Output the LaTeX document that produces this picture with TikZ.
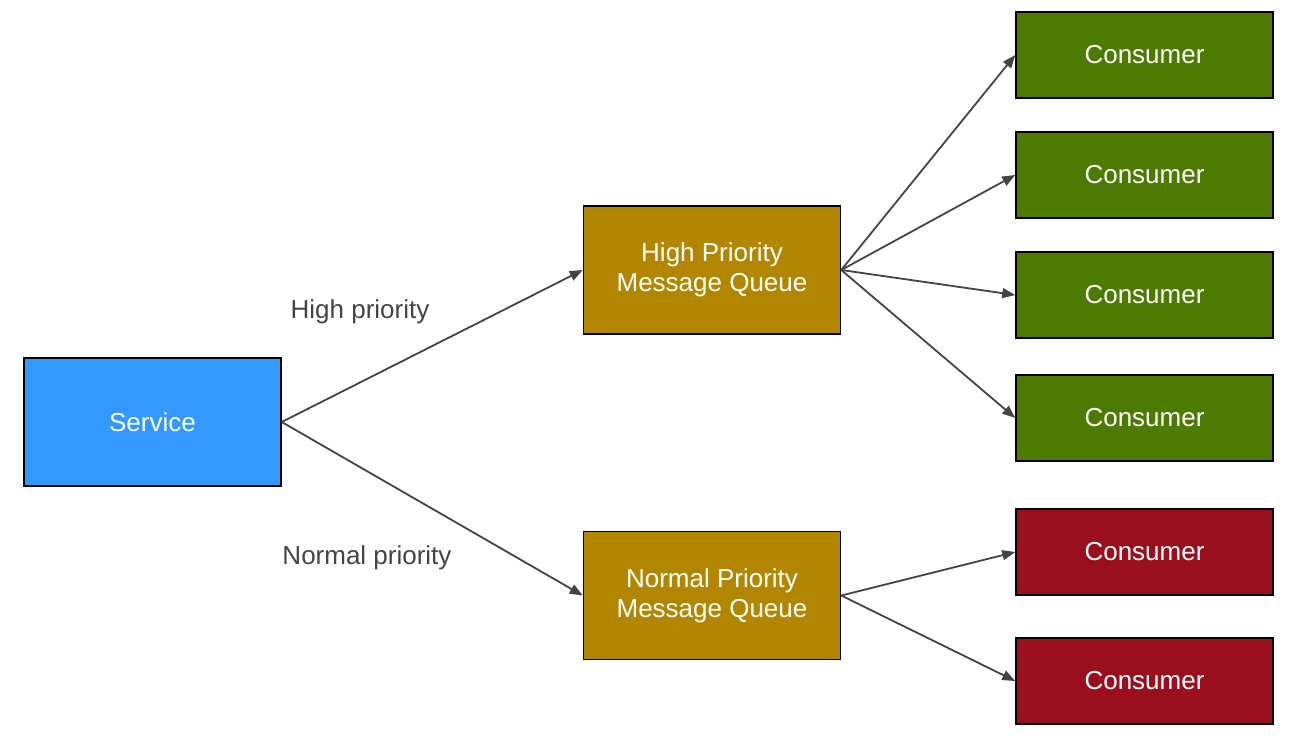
\documentclass[tikz,border=0pt]{standalone}
\usepackage{fontspec}
\setmainfont{Liberation Sans}
\usetikzlibrary{arrows.meta}
\definecolor{svc}{HTML}{3399FF}
\definecolor{que}{HTML}{B38600}
\definecolor{grn}{HTML}{4D7A00}
\definecolor{rd}{HTML}{990F1E}
\definecolor{ln}{HTML}{444444}
\begin{document}
\begin{tikzpicture}[x=1pt,y=-1pt,
  box/.style={draw=black,line width=1.5pt,minimum width=257pt,minimum height=128pt,inner sep=0pt,text=white,font=\fontsize{26}{30}\selectfont,align=center},
  cons/.style={box,minimum height=86pt},
  arr/.style={draw=ln,line width=1.8pt,-{Triangle[length=13pt,width=10pt]}},
  lab/.style={text=ln,font=\fontsize{26}{30}\selectfont}]
\useasboundingbox (0,0) rectangle (1289,738);
\node[box,fill=svc] (s) at (152.5,422) {Service};
\node[box,fill=que] (h) at (712,270) {High Priority\\Message Queue};
\node[box,fill=que] (n) at (712,595.5) {Normal Priority\\Message Queue};
\node[cons,fill=grn] (c1) at (1144.5,55) {Consumer};
\node[cons,fill=grn] (c2) at (1144.5,175) {Consumer};
\node[cons,fill=grn] (c3) at (1144.5,295) {Consumer};
\node[cons,fill=grn] (c4) at (1144.5,418) {Consumer};
\node[cons,fill=rd] (c5) at (1144.5,552) {Consumer};
\node[cons,fill=rd] (c6) at (1144.5,681) {Consumer};
\node[lab] (l1) at (360,312) {High priority};
\node[lab] (l2) at (367,558) {Normal priority};
\draw[arr] (s.east) -- (h.west);
\draw[arr] (s.east) -- (n.west);
\foreach \c in {c1,c2,c3,c4} \draw[arr] (h.east) -- (\c.west);
\foreach \c in {c5,c6} \draw[arr] (n.east) -- (\c.west);
\end{tikzpicture}
\end{document}
